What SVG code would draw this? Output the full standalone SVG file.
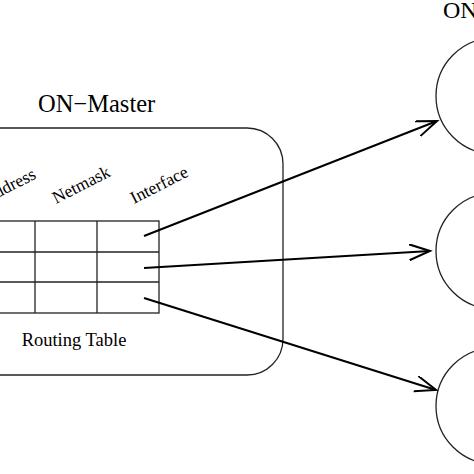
<svg xmlns="http://www.w3.org/2000/svg" width="474" height="474" viewBox="0 0 474 474">
<style>
.t{font-family:"Liberation Serif","Times New Roman",serif;fill:#000}
.thin{fill:none;stroke:#222;stroke-width:1.3}
.arr{fill:none;stroke:#000;stroke-width:2}
</style>
<defs>
<marker id="ah" markerUnits="userSpaceOnUse" markerWidth="24" markerHeight="18" refX="21" refY="8" orient="auto" viewBox="0 0 24 18">
<path d="M0,0 L21,8 L0,16" fill="none" stroke="#000" stroke-width="2"/>
</marker>
</defs>
<rect width="474" height="474" fill="#fff"/>
<g id="master">
<rect class="thin" x="-40" y="128" width="323" height="247" rx="36"/>
<text class="t" x="38" y="112" font-size="24.5">ON−Master</text>
</g>
<g id="table">
<rect class="thin" x="-30" y="221" width="189" height="92"/>
<line class="thin" x1="-30" y1="252" x2="159" y2="252"/>
<line class="thin" x1="-30" y1="282" x2="159" y2="282"/>
<line class="thin" x1="35" y1="221" x2="35" y2="313"/>
<line class="thin" x1="97" y1="221" x2="97" y2="313"/>
<text class="t" x="-14" y="204" font-size="17.5" transform="rotate(-27 -14 204)">Address</text>
<text class="t" x="56" y="204" font-size="17.5" transform="rotate(-27 56 204)">Netmask</text>
<text class="t" x="134" y="204" font-size="17.5" transform="rotate(-27 134 204)">Interface</text>
<text class="t" x="74" y="346" font-size="18.5" text-anchor="middle">Routing Table</text>
</g>
<g id="slave1"><circle class="thin" cx="494" cy="96" r="58"/></g>
<g id="slave2"><circle class="thin" cx="494" cy="251" r="58"/></g>
<g id="slave3"><circle class="thin" cx="494" cy="406" r="58"/></g>
<text class="t" x="443" y="18" font-size="24">ON</text>
<g id="connectors">
<line class="arr" x1="144" y1="236" x2="437" y2="121" marker-end="url(#ah)"/>
<line class="arr" x1="144" y1="268" x2="430" y2="251" marker-end="url(#ah)"/>
<line class="arr" x1="144" y1="298" x2="436" y2="390" marker-end="url(#ah)"/>
</g>
</svg>
